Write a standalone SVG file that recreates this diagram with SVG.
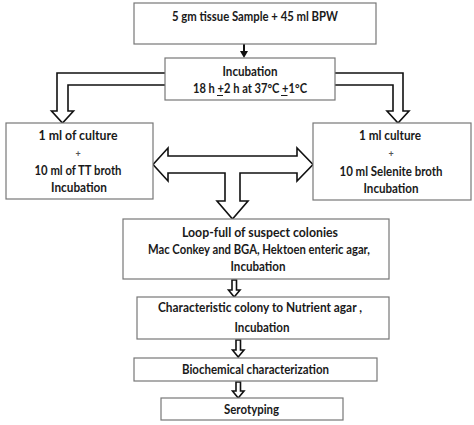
<svg xmlns="http://www.w3.org/2000/svg" width="474" height="425" viewBox="0 0 474 425">
<style>
.box{fill:#fff;stroke:#777;stroke-width:1.2}
.arr{fill:#fff;stroke:#111;stroke-width:1.6;stroke-linejoin:miter}
.t{font-family:Lato,"Open Sans","Liberation Sans",sans-serif;font-weight:700;font-size:12.5px;fill:#1a1a1a;text-anchor:middle}
.p{font-size:9px;fill:#555}
.ul{stroke:#1a1a1a;stroke-width:1}
</style>
<rect width="474" height="425" fill="#fff"/>
<g id="connectors">
<line x1="244" y1="44" x2="244" y2="52" stroke="#111" stroke-width="2"/>
<polygon points="240,51 248,51 244,58" fill="#111"/>
<polyline class="arr" points="165,73 57,73 57,111 51.5,111 62.5,123 73.5,111 68,111 68,85 165,85"/>
<polyline class="arr" points="335,73 403,73 403,111 409,111 398,123 387,111 393,111 393,85 335,85"/>
<polygon class="arr" points="153,164.5 168,148 168,156 297,156 297,148 313,164.5 297,181 297,173 240,173 240,201 248,201 232.5,219 217,201 225,201 225,173 168,173 168,181"/>
<polygon class="arr" points="232,280 236.5,280 236.5,290 240,290 234.2,297 228.5,290 232,290"/>
<polygon class="arr" points="236,340 240.5,340 240.5,350 244,350 238.2,357 232.5,350 236,350"/>
<polygon class="arr" points="236,382 240.5,382 240.5,391 244,391 238.2,398 232.5,391 236,391"/>
</g>
<g id="n1">
<rect class="box" x="134" y="3" width="242" height="41"/>
<text class="t" x="255" y="21" textLength="166" lengthAdjust="spacingAndGlyphs">5 gm tissue Sample + 45 ml BPW</text>
</g>
<g id="n2">
<rect class="box" x="165" y="58" width="170" height="42"/>
<text class="t" x="250" y="76" textLength="55" lengthAdjust="spacingAndGlyphs">Incubation</text>
<text class="t" x="250" y="93" textLength="114" lengthAdjust="spacingAndGlyphs">18 h +2 h at 37°C +1°C</text>
<line class="ul" x1="217" y1="95.5" x2="223" y2="95.5"/>
<line class="ul" x1="281" y1="95.5" x2="287.5" y2="95.5"/>
</g>
<g id="n3">
<rect class="box" x="6" y="123" width="147" height="76"/>
<text class="t" x="78" y="140" textLength="79" lengthAdjust="spacingAndGlyphs">1 ml of culture</text>
<text class="t p" x="78" y="157">+</text>
<text class="t" x="78" y="175" textLength="87" lengthAdjust="spacingAndGlyphs">10 ml of TT broth</text>
<text class="t" x="79" y="192" textLength="56" lengthAdjust="spacingAndGlyphs">Incubation</text>
</g>
<g id="n4">
<rect class="box" x="313" y="123" width="158" height="77"/>
<text class="t" x="390" y="140" textLength="62" lengthAdjust="spacingAndGlyphs">1 ml culture</text>
<text class="t p" x="391" y="157">+</text>
<text class="t" x="391" y="176" textLength="103" lengthAdjust="spacingAndGlyphs">10 ml Selenite broth</text>
<text class="t" x="391" y="193" textLength="55" lengthAdjust="spacingAndGlyphs">Incubation</text>
</g>
<g id="n5">
<rect class="box" x="123" y="219" width="266" height="60"/>
<text class="t" x="260" y="237" textLength="156" lengthAdjust="spacingAndGlyphs">Loop-full of suspect colonies</text>
<text class="t" x="259" y="254" textLength="222" lengthAdjust="spacingAndGlyphs">Mac Conkey and BGA, Hektoen enteric agar,</text>
<text class="t" x="258" y="271" textLength="55" lengthAdjust="spacingAndGlyphs">Incubation</text>
</g>
<g id="n6">
<rect class="box" x="137" y="297" width="252" height="42"/>
<text class="t" x="260" y="312" textLength="204" lengthAdjust="spacingAndGlyphs">Characteristic colony to Nutrient agar ,</text>
<text class="t" x="262" y="332" textLength="55" lengthAdjust="spacingAndGlyphs">Incubation</text>
</g>
<g id="n7">
<rect class="box" x="134" y="358" width="243" height="23"/>
<text class="t" x="255.5" y="374" textLength="147" lengthAdjust="spacingAndGlyphs">Biochemical characterization</text>
</g>
<g id="n8">
<rect class="box" x="161" y="398" width="182" height="22"/>
<text class="t" x="251.5" y="414" textLength="55" lengthAdjust="spacingAndGlyphs">Serotyping</text>
</g>
</svg>
